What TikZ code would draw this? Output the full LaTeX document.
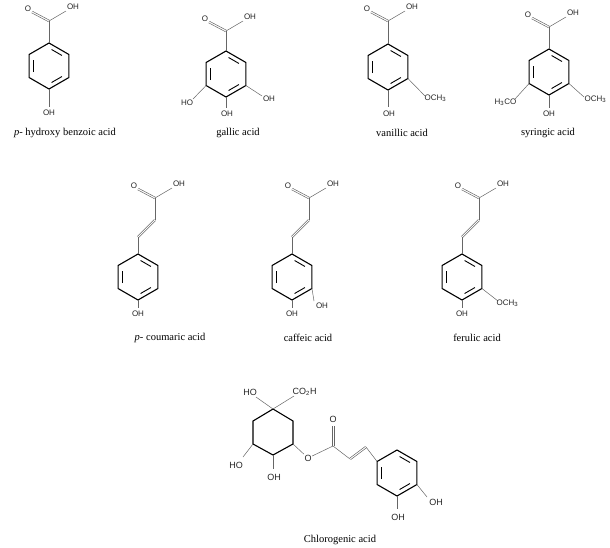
\documentclass[tikz,border=0pt]{standalone}
\usepackage{fontspec}
\setmainfont{Liberation Serif}
\newfontfamily\atomf{Liberation Sans}
\usetikzlibrary{calc}
\tikzset{
 ringb/.style={line width=1.1pt,black,line join=miter},
 bd/.style={line width=0.5pt,gray!80!black},
 atm/.style={font=\atomf\fontsize{8}{8}\selectfont,inner sep=0.5pt,text=black!85},
 atb/.style={atm,font=\atomf\fontsize{9}{9}\selectfont},
 capt/.style={font=\fontsize{10.5}{12}\selectfont,inner sep=0pt},
}
\newcommand\dbl[2]{\draw[bd] ($(#1)!0.9pt!90:(#2)$) -- ($(#2)!0.9pt!-90:(#1)$);
 \draw[bd] ($(#1)!0.9pt!-90:(#2)$) -- ($(#2)!0.9pt!90:(#1)$);}
\newcommand\bz[2]{\begin{scope}[shift={(#1,#2)}]
 \draw[ringb] (90:23)--(30:23)--(-30:23)--(-90:23)--(-150:23)--(150:23)--cycle;
 \foreach \a/\b in {-90/-30,30/90,150/-150}{\draw[ringb,line width=0.9pt,shorten >=3pt,shorten <=3pt] (\a:18)--(\b:18);}
 \end{scope}}
\newcommand\cooh[3]{\coordinate (#1) at (#2,#3);
 \coordinate (#1x) at ($(#1)+(-17,-9)$);
 \dbl{#1}{#1x}
 \draw[bd] (#1) -- ++(17,-10);
 \node[atm] (#1O) at ($(#1)+(-21,-12)$) {O};
 \node[atm] (#1H) at ($(#1)+(24,-14)$) {OH};}
\begin{document}
\begin{tikzpicture}[x=1pt,y=-1pt]
\useasboundingbox (0,0) rectangle (610,547);
% 1 p-hydroxybenzoic
\bz{49}{66}
\cooh{c1}{49}{21}
\draw[bd] (49,43) -- (c1);
\draw[bd] (49,89) -- (49,107);
\node[atm] (o1) at (49,113) {OH};
\node[capt] (l1) at (65,133) {\textit{p}- hydroxy benzoic acid};
% 2 gallic
\bz{226}{74}
\cooh{c2}{226}{31}
\draw[bd] (226,51) -- (c2);
\draw[bd] ($(226,74)+(150:23)$) -- (193,99);
\draw[bd] ($(226,74)+(30:23)$) -- (262,96);
\draw[bd] (226,97) -- (226,108);
\node[atm] (o2a) at (187,103) {HO};
\node[atm] (o2b) at (269,99) {OH};
\node[atm] (o2c) at (227,114) {OH};
\node[capt] (l2) at (238,133) {gallic acid};
% 3 vanillic
\bz{388}{67}
\cooh{c3}{388}{21}
\draw[bd] (388,44) -- (c3);
\draw[bd] ($(388,67)+(30:23)$) -- (425,96);
\draw[bd] (388,90) -- (388,107);
\node[atm,anchor=west] (o3a) at (424,98) {OCH\textsubscript{3}};
\node[atm] (o3b) at (389,114) {OH};
\node[capt] (l3) at (402,133) {vanillic acid};
% 4 syringic
\bz{549}{72}
\cooh{c4}{549}{27}
\draw[bd] (549,49) -- (c4);
\draw[bd] ($(549,72)+(150:23)$) -- (515,99);
\draw[bd] ($(549,72)+(30:23)$) -- (584,97);
\draw[bd] (549,95) -- (549,108);
\node[atm,anchor=east] (o4a) at (517,102) {H\textsubscript{3}CO};
\node[atm,anchor=west] (o4b) at (584,99) {OCH\textsubscript{3}};
\node[atm] (o4c) at (549,114) {OH};
\node[capt] (l4) at (548,133) {syringic acid};
% cinnamic acids
\foreach \cx/\nm in {138/p,292/c,462/f}{
 \bz{\cx}{277}
 \coordinate (\nm a) at (\cx,237);
 \coordinate (\nm b) at ({\cx+17},220);
 \cooh{\nm C}{\cx+17}{198}
 \draw[bd] (\cx,254) -- (\nm a);
 \dbl{\nm a}{\nm b}
 \draw[bd] (\nm b) -- (\nm C);
 \draw[bd] (\cx,300) -- (\cx,308);
 \node[atm] (\nm OH) at (\cx,314) {OH};
}
\draw[bd] ($(292,277)+(30:23)$) -- (314,301);
\node[atm] (co2) at (322,306) {OH};
\draw[bd] ($(462,277)+(30:23)$) -- (498,301);
\node[atm,anchor=west] (fo2) at (496,303) {OCH\textsubscript{3}};
\node[capt] (l5) at (170,338) {\textit{p}- coumaric acid};
\node[capt] (l6) at (308,338) {caffeic acid};
\node[capt] (l7) at (477,338) {ferulic acid};
% chlorogenic
\coordinate (q1) at (273,409);
\coordinate (q2) at (293,421);
\coordinate (q3) at (293,444);
\coordinate (q4) at (273,455);
\coordinate (q5) at (253,444);
\coordinate (q6) at (253,421);
\draw[ringb] (q1)--(q2)--(q3)--(q4)--(q5)--(q6)--cycle;
\node[atb] (qh1) at (250,392) {HO};
\node[atb,anchor=west] (qc) at (292,392) {CO\textsubscript{2}H};
\draw[bd] (q1) -- (256,397);
\draw[bd] (q1) -- (294,396);
\draw[bd] (q5) -- (243,457);
\node[atb] (qh2) at (236,465) {HO};
\draw[bd] (q4) -- (273,469);
\node[atb] (qh3) at (274,477) {OH};
\node[atb] (qo) at (308,458) {O};
\draw[bd] (q3) -- (qo);
\coordinate (e1) at (333,446);
\coordinate (e1x) at (333,426);
\draw[bd] (qo) -- (e1);
\dbl{e1}{e1x}
\node[atb] (qo2) at (333,419) {O};
\coordinate (e2) at (350,459);
\coordinate (e3) at (366,447);
\draw[bd] (e1) -- (e2);
\dbl{e2}{e3}
\bz{397}{473}
\draw[bd] (e3) -- ($(397,473)+(-150:23)$);
\draw[bd] ($(397,473)+(30:23)$) -- (427,497);
\node[atb] (qh4) at (436,502) {OH};
\draw[bd] (397,496) -- (397,509);
\node[atb] (qh5) at (398,517) {OH};
\node[capt] (l8) at (340,540) {Chlorogenic acid};
\end{tikzpicture}
\end{document}
